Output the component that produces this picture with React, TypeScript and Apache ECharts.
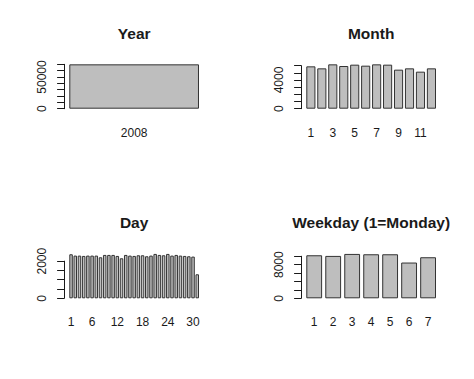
import React, { useEffect, useRef } from "react";
import * as echarts from "echarts";

// ---- data ----
const yearCats = ["2008"];
const yearCounts = [70000];
const yearTicks = [0, 10000, 20000, 30000, 40000, 50000, 60000, 70000];
const yearTickShown = ["0", "50000"];
const yearCatShown = ["2008"];

const monthCats = ["1", "2", "3", "4", "5", "6", "7", "8", "9", "10", "11", "12"];
const monthCounts = [5907, 5628, 6186, 5953, 6140, 6000, 6186, 6140, 5442, 5628, 5163, 5628];
const monthTicks = [0, 1000, 2000, 3000, 4000, 5000, 6000];
const monthTickShown = ["0", "4000"];
const monthCatShown = ["1", "3", "5", "7", "9", "11"];

const dayCats = [
  "1", "2", "3", "4", "5", "6", "7", "8", "9", "10", "11", "12", "13", "14", "15", "16",
  "17", "18", "19", "20", "21", "22", "23", "24", "25", "26", "27", "28", "29", "30", "31",
];
const dayCounts = [
  2371, 2299, 2299, 2281, 2299, 2299, 2299, 2209, 2335, 2335, 2335, 2281, 2155, 2335, 2299, 2281,
  2317, 2317, 2263, 2299, 2389, 2335, 2317, 2389, 2299, 2335, 2299, 2281, 2263, 2245, 1293,
];
const dayTicks = [0, 500, 1000, 1500, 2000];
const dayTickShown = ["0", "2000"];
const dayCatShown = ["1", "6", "12", "18", "24", "30"];

const weekdayCats = ["1", "2", "3", "4", "5", "6", "7"];
const weekdayCounts = [10236, 10079, 10551, 10472, 10472, 8504, 9764];
const weekdayTicks = [0, 2000, 4000, 6000, 8000, 10000];
const weekdayTickShown = ["0", "8000"];
const weekdayCatShown = ["1", "2", "3", "4", "5", "6", "7"];

const panels = [
  { title: "Year", cats: yearCats, values: yearCounts, ticks: yearTicks, tickShown: yearTickShown, catShown: yearCatShown },
  { title: "Month", cats: monthCats, values: monthCounts, ticks: monthTicks, tickShown: monthTickShown, catShown: monthCatShown },
  { title: "Day", cats: dayCats, values: dayCounts, ticks: dayTicks, tickShown: dayTickShown, catShown: dayCatShown },
  { title: "Weekday (1=Monday)", cats: weekdayCats, values: weekdayCounts, ticks: weekdayTicks, tickShown: weekdayTickShown, catShown: weekdayCatShown },
];

// ---- layout constants ----
const COL_W = 237;
const ROW_H = 189.6;
const BAR_LEFT = 69.3;
const BAR_SPAN = 129.7;
const BASE_Y = 108.7;
const MAX_H = 44.37;
const AXIS_GAP = 5.2;
const FONT = "'Liberation Sans', Arial, Helvetica, sans-serif";
const INK = "#1a1a1a";

export default function App() {
  const ref = useRef<HTMLDivElement>(null);
  useEffect(() => {
    if (!ref.current) return;
    const chart = echarts.init(ref.current, undefined, { renderer: "svg" });
    const grids: any[] = [];
    const xAxes: any[] = [];
    const yAxes: any[] = [];
    const series: any[] = [];
    const graphics: any[] = [];
    panels.forEach((p, i) => {
      const col = i % 2;
      const row = Math.floor(i / 2);
      const n = p.cats.length;
      const u = BAR_SPAN / (1.2 * n - 0.2);
      const barLeft = col * COL_W + BAR_LEFT;
      const gLeft = barLeft - 0.1 * u;
      const gWidth = 1.2 * n * u;
      const maxV = Math.max(...p.values);
      const topTick = p.ticks[p.ticks.length - 1];
      const base = BASE_Y + row * ROW_H;
      const h = (topTick * MAX_H) / maxV;
      grids.push({ left: gLeft, top: base - h, width: gWidth, height: h, outerBoundsMode: "none", containLabel: false });
      xAxes.push({
        type: "category",
        gridIndex: i,
        data: p.cats,
        axisLine: { show: false },
        axisTick: { show: false },
        axisLabel: {
          interval: (idx: number, val: string) => p.catShown.includes(val),
          color: INK,
          fontSize: 12,
          fontFamily: FONT,
          margin: 24,
          verticalAlign: "middle",
        },
      });
      yAxes.push({
        type: "value",
        gridIndex: i,
        min: 0,
        max: topTick,
        interval: p.ticks[1] - p.ticks[0],
        offset: AXIS_GAP - 0.1 * u,
        splitLine: { show: false },
        axisLine: { show: true, lineStyle: { color: INK, width: 1 } },
        axisTick: { show: true, length: 7, lineStyle: { color: INK, width: 1 } },
        axisLabel: {
          rotate: 90,
          margin: 16,
          color: INK,
          fontSize: 12,
          fontFamily: FONT,
          formatter: (v: number) => (p.tickShown.includes(String(v)) ? String(v) : ""),
        },
      });
      series.push({
        type: "bar",
        xAxisIndex: i,
        yAxisIndex: i,
        data: p.values,
        clip: false,
        barCategoryGap: "16.667%",
        itemStyle: { color: "#bebebe", borderColor: "#333333", borderWidth: 1 },
      });
      graphics.push({
        type: "text",
        x: barLeft - AXIS_GAP + (BAR_SPAN + 2 * AXIS_GAP) / 2,
        y: 33 + row * ROW_H,
        style: {
          text: p.title,
          font: `bold 15.5px ${FONT}`,
          fill: INK,
          align: "center",
          verticalAlign: "middle",
          textAlign: "center",
          textVerticalAlign: "middle",
        },
      });
    });
    chart.setOption({
      animation: false,
      backgroundColor: "#ffffff",
      grid: grids,
      xAxis: xAxes,
      yAxis: yAxes,
      series,
      graphic: graphics,
    });
    return () => chart.dispose();
  }, []);
  return <div ref={ref} style={{ position: "fixed", left: 0, top: 0, width: 474, height: 379 }} />;
}
